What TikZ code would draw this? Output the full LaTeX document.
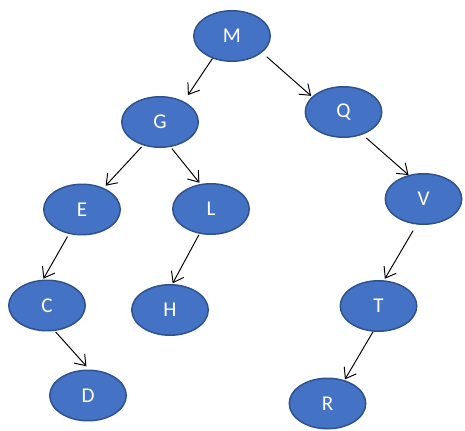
\documentclass[tikz,border=0pt]{standalone}
\usepackage{fontspec}
\setmainfont{Carlito}
\usepackage{tikz}
\usetikzlibrary{shapes.geometric}
\usetikzlibrary{arrows.meta}
\definecolor{nodeblue}{HTML}{4472C4}
\definecolor{nodeedge}{HTML}{2F528F}

\begin{document}
\begin{tikzpicture}[x=0.02cm,y=-0.02cm,
  vertex/.style={ellipse, draw=nodeedge, line width=0.85pt, fill=nodeblue,
    minimum width=1.53cm, minimum height=1.01cm, inner sep=0pt,
    text=white, font=\fontsize{12pt}{14pt}\selectfont},
  edge/.style={black, line width=0.55pt, -{Straight Barb[length=5.5pt,width=8pt]}}]

\useasboundingbox (0,0) rectangle (465,431);

\node (M) at (232,36) [vertex] {M};
\node (G) at (160,122) [vertex] {G};
\node (Q) at (343.5,112) [vertex] {Q};
\node (E) at (82,209.5) [vertex] {E};
\node (L) at (211,209) [vertex] {L};
\node (V) at (423.5,199) [vertex] {V};
\node (C) at (47,305.5) [vertex] {C};
\node (H) at (170,310) [vertex] {H};
\node (T) at (378.5,306) [vertex] {T};
\node (D) at (88,395.5) [vertex] {D};
\node (R) at (327.5,403.5) [vertex] {R};

%arrows
\draw[edge, shorten >=4.3pt] (M.229) -- (G.41.5);
\draw[edge, shorten <=3.5pt, shorten >=0.7pt] (M.331) -- (Q.154.3);
\draw[edge, shorten <=1.2pt, shorten >=1.7pt] (G.234.4) -- (E.45);
\draw[edge, shorten <=1.2pt, shorten >=0.9pt] (G.293.6) -- (L.113.1);
\draw[edge, shorten <=2.9pt] (Q.310.6) -- (V.122.6);
\draw[edge, shorten <=1.7pt, shorten >=0.6pt] (E.242.5) -- (C.99.3);
\draw[edge, shorten <=0.7pt, shorten >=0.5pt] (L.245.4) -- (H.85);
\draw[edge, shorten <=0.8pt, shorten >=2.5pt] (C.287) -- (D.87.8);
\draw[edge, shorten <=4pt, shorten >=1pt] (V.255.6) -- (T.78.3);
\draw[edge, shorten >=0.5pt] (T.258.6) -- (R.54);

\end{tikzpicture}
\end{document}
